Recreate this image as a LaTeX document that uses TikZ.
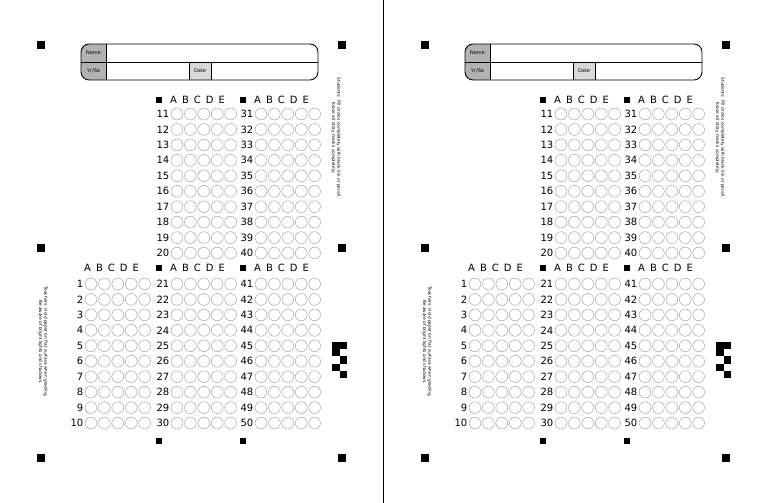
\documentclass[tikz,border=0pt]{standalone}
\usepackage{fontspec}
\setmainfont{DejaVu Sans}
\begin{document}
\begin{tikzpicture}[x=1pt,y=-1pt,
  mark box/.style={fill=black,minimum size=7.5pt,inner sep=0pt},
  small mark/.style={fill=black,minimum size=6pt,inner sep=0pt},
  bubble/.style={circle,draw=black!35,line width=0.5pt,minimum size=11.8pt,inner sep=0pt},
  qnum/.style={anchor=east,font=\fontsize{10}{10}\selectfont,inner sep=0pt},
  letters/.style={anchor=west,font=\fontsize{10}{10}\selectfont,inner sep=0pt},
  tiny/.style={font=\fontsize{5}{5}\selectfont,inner sep=1pt},
  note/.style={font=\fontsize{4.3}{5.2}\selectfont,align=center,rotate=-90,inner sep=0pt}]
\useasboundingbox (0,0) rectangle (768,503);
\fill[white] (0,0) rectangle (768,503);
\coordinate (dt) at (383,0); \coordinate (db) at (383,503);
\draw[line width=0.8pt] (dt) -- (db);
\foreach \s/\dx in {L/0,R/384}{
\begin{scope}[xshift=\dx]
  \foreach \x/\y [count=\k] in {41/45,342/45,41/248,342/248,41/458,342/458}
    \node[mark box] (c\s\k) at (\x,\y) {};
  \begin{scope}
    \clip[rounded corners=8] (81,44) rectangle (318,80);
    \fill[black!30] (81,44) rectangle (106,80);
    \fill[black!15] (189,62) rectangle (211,80);
  \end{scope}
  \draw[line width=0.9pt,rounded corners=8] (81,44) rectangle (318,80);
  \draw[line width=0.7pt] (81,62) -- (318,62) (106,44) -- (106,80) (189,62) -- (189,80) (211,62) -- (211,80);
  \node[tiny] (name\s) at (93.5,53) {Name};
  \node[tiny] (yr\s) at (93.5,71) {Yr/Se};
  \node[tiny] (date\s) at (200,71) {Date};
  \foreach \cx/\base [count=\c] in {170/10,254/30}{
    \node[small mark] (tm\s\c) at (\cx-11,100) {};
    \node[letters] (tl\s\c) at (\cx,100) {A\kern5pt B\kern5pt C\kern5pt D\kern5pt E};
    \foreach \i in {1,...,10}{
      \pgfmathtruncatemacro\q{\base+\i}
      \node[qnum] (tq\s\q) at (\cx-0.5,{114+(\i-1)*15.45}) {\q};
      \foreach \j in {0,...,4}
        \node[bubble] (tb\s\q-\j) at ({\cx+7+\j*13.4},{114+(\i-1)*15.45}) {};
    }
  }
  \foreach \cx/\base [count=\c] in {84/0,170/20,254/40}{
    \ifnum\c>1 \node[small mark] (bm\s\c) at (\cx-11,268) {}; \fi
    \node[letters] (bl\s\c) at (\cx,268) {A\kern5pt B\kern5pt C\kern5pt D\kern5pt E};
    \foreach \i in {1,...,10}{
      \pgfmathtruncatemacro\q{\base+\i}
      \node[qnum] (bq\s\q) at (\cx-0.5,{284+(\i-1)*15.45}) {\q};
      \foreach \j in {0,...,4}
        \node[bubble] (bb\s\q-\j) at ({\cx+7+\j*13.4},{284+(\i-1)*15.45}) {};
    }
  }
  \node[small mark] (f\s1) at (159,441) {};
  \node[small mark] (f\s2) at (243,441) {};
  \fill (332,342) rectangle (347,349);
  \fill (332,349) rectangle (339.5,356);
  \fill (339.5,356) rectangle (347,364);
  \fill (332,364) rectangle (339.5,371);
  \fill (339.5,371) rectangle (347,378);
  \node[note] (ns\s) at (336,138) {Students: Fill circles completely with black ink or pencil.\\Erase all stray marks completely.};
  \node[note] (nt\s) at (43,342) {Teachers: Hold paper on flat surface when grading.\\Be aware of bright lights and shadows.};
\end{scope}}
\end{tikzpicture}
\end{document}
